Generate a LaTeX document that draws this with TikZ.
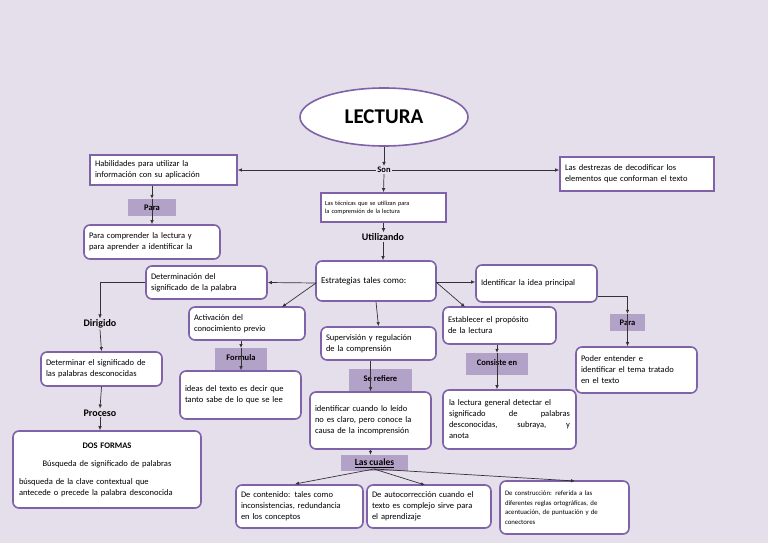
\documentclass[tikz,border=0pt]{standalone}
\usepackage{fontspec}
\setmainfont{Carlito}
\usetikzlibrary{arrows.meta,shapes.geometric}
\definecolor{bg}{HTML}{E5DFEC}
\definecolor{pur}{HTML}{7F62A8}
\definecolor{lab}{HTML}{B3A2C7}
\begin{document}
\begin{tikzpicture}[x=1pt,y=-1pt,
 box/.style={draw=pur,line width=1.6pt,fill=white,rounded corners=6pt,inner sep=0pt,font=\fontsize{8.5}{11}\selectfont},
 sbox/.style={box,rounded corners=0pt},
 lab/.style={fill=lab,inner sep=0pt,font=\bfseries\fontsize{8.5}{9}\selectfont},
 word/.style={font=\bfseries\fontsize{10}{11}\selectfont,inner sep=1pt},
 arr/.style={-{Latex[length=4pt,width=3.5pt]},line width=0.7pt,draw=black!80}]
\fill[bg] (0,0) rectangle (768,543);
\useasboundingbox (0,0) rectangle (768,543);
% nodes
\node[ellipse,draw=pur,line width=1.6pt,fill=white,minimum width=168,minimum height=58,font=\bfseries\fontsize{21}{22}\selectfont] (lec) at (384,117) {LECTURA};
\node[word,font=\bfseries\fontsize{8.5}{9}\selectfont] (son) at (384,170) {Son};
\node[sbox,minimum width=147,minimum height=30,text width=137] (hab) at (163.5,170) {Habilidades para utilizar la\\información con su aplicación};
\node[sbox,minimum width=154,minimum height=34,text width=144] (des) at (637,174) {Las destrezas de decodificar los\\elementos que conforman el texto};
\node[sbox,minimum width=125,minimum height=29,text width=117,font=\fontsize{6.3}{8}\selectfont] (tec) at (383.5,207.5) {Las técnicas que se utilizan para\\la comprensión de la lectura};
\node[word] (uti) at (383,237) {Utilizando};
\node[box,minimum width=120,minimum height=40,text width=110] (est) at (376,281) {\fontsize{9}{10}\selectfont Estrategias tales como:\\[16pt]};
\node[lab,minimum width=48,minimum height=17] (para1) at (152,207.5) {Para};
\node[box,minimum width=136,minimum height=34,text width=126] (com) at (152,242) {Para comprender la lectura y\\para aprender a identificar la};
\node[box,minimum width=121,minimum height=33,text width=111] (det) at (206.5,282.5) {Determinación del\\significado de la palabra};
\node[box,minimum width=121,minimum height=37,text width=111] (idp) at (536.5,283.5) {Identificar la idea principal\\[12pt]};
\node[box,minimum width=116,minimum height=33,text width=106] (act) at (247,323.5) {Activación del\\conocimiento previo};
\node[box,minimum width=115,minimum height=33,text width=105] (sup) at (378.5,343.5) {Supervisión y regulación\\de la comprensión};
\node[box,minimum width=113,minimum height=37,text width=103] (esp) at (499.5,325.5) {Establecer el propósito\\de la lectura};
\node[lab,minimum width=35,minimum height=17] (para2) at (627.5,322.5) {Para};
\node[box,minimum width=121,minimum height=46,text width=111] (pod) at (636.5,370) {Poder entender e\\identificar el tema tratado\\en el texto};
\node[word] (dir) at (100,324) {Dirigido};
\node[box,minimum width=121,minimum height=34,text width=111] (dsig) at (101.5,369) {Determinar el significado de\\las palabras desconocidas};
\node[lab,minimum width=52,minimum height=22,anchor=north] (for) at (241,348) {\raisebox{4pt}{Formula}};
\node[box,minimum width=121,minimum height=48,text width=111] (ide) at (240.5,395) {ideas del texto es decir que\\tanto sabe de lo que se lee\\[12pt]};
\node[lab,minimum width=63,minimum height=23] (ser) at (380.5,380.5) {\raisebox{3pt}{Se refiere}};
\node[lab,minimum width=62,minimum height=22] (con) at (497,364) {\raisebox{2pt}{Consiste en}};
\node[box,minimum width=121,minimum height=57,text width=111] (icu) at (370.5,420.5) {identificar cuando lo leído\\no es claro, pero conoce la\\causa de la incomprensión\\[8pt]};
\node[box,minimum width=133,minimum height=59,text width=121] (lge) at (509.5,419.5) {la lectura general detectar el\\significado \hfill de \hfill palabras\\desconocidas, \hfill subraya, \hfill y\\anota};
\node[word] (pro) at (100,413) {Proceso};
\node[box,minimum width=188,minimum height=77,text width=176,align=left] (dos) at (107,469.5) {\centering\textbf{DOS FORMAS}\\[7pt]Búsqueda de significado de palabras\\[7pt]\raggedright búsqueda de la clave contextual que\\antecede o precede la palabra desconocida};
\node[lab,minimum width=67,minimum height=16,font=\bfseries\fontsize{9.5}{10}\selectfont] (cua) at (374.5,463) {\underline{Las cuales}};
\node[box,minimum width=127,minimum height=43,text width=117] (dcon) at (299.5,506.5) {De contenido: tales como\\inconsistencias, redundancia\\en los conceptos};
\node[box,minimum width=124,minimum height=43,text width=114] (daut) at (429,506.5) {De autocorrección cuando el\\texto es complejo sirve para\\el aprendizaje};
\node[box,minimum width=129,minimum height=53,text width=119,font=\fontsize{6.8}{9.5}\selectfont] (dcons) at (564.5,507.5) {De construcción: referida a las\\diferentes reglas ortográficas, de\\acentuación, de puntuación y de\\conectores};
% connectors
\draw[arr] (lec.south) -- (son.north);
\draw[arr] (son.west) -- (son.west -| hab.east);
\draw[arr] (son.east) -- (son.east -| des.west);
\draw[arr] (son.south) -- (tec.north);
\draw[arr] (para1.north |- hab.south) -- (para1.north);
\draw[arr] (para1.north) -- (com.north);
\draw[arr] (tec.south) -- (tec.south |- uti.north);
\draw[arr] (uti.south) -- (uti.south |- est.north);
\coordinate (ew) at (316,283); \coordinate (ee) at (436,282);
\draw[arr] (ew) -- (det.east);
\draw[arr] (ew) -- (282,307);
\draw[arr] (est.south) -- (sup.north);
\draw[arr] (ee) -- (ee -| idp.west);
\draw[arr] (ee) -- (465,307);
\draw[arr] (det.west) -| (dir.north);
\draw[arr] (dir.south) -- (dsig.north);
\draw[arr] (dsig.south) -- (pro.north);
\draw[arr] (pro.south) -- (dos.north -| pro.south);
\draw[arr] (for.north |- act.south) -- (for.north);
\draw[arr] (for.north) -- (for.north |- ide.north);
\draw[arr] (icu.north |- sup.south) -- (icu.north);
\draw[arr] (con.north |- esp.south) -- (con.north);
\draw[arr] (con.north) -- (con.north |- lge.north);
\draw[arr] (idp.east |- 0,296) -| (para2.north);
\draw[arr] (para2.north) -- (pod.north -| para2.north);
\draw[arr] (icu.south) -- (icu.south |- cua.north);
\draw[arr] (374,469) -- (295,484);
\draw[arr] (374,469) -- (425,485);
\draw[arr] (374,469) -- (575,481);
\end{tikzpicture}
\end{document}
